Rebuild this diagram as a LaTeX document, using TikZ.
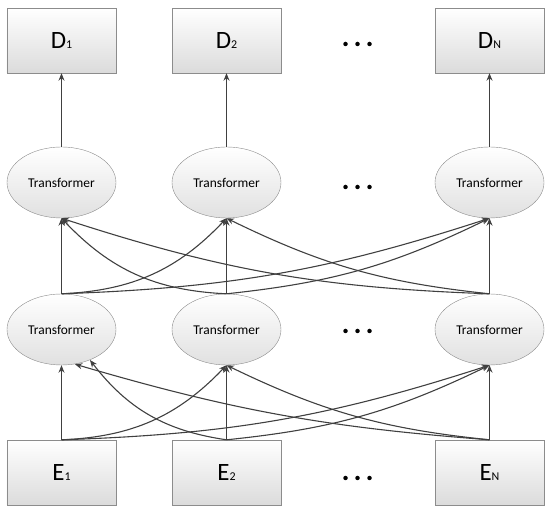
\documentclass[tikz,border=0pt]{standalone}
\usepackage{fontspec}
\setmainfont{Carlito}
\usetikzlibrary{arrows.meta,shapes.geometric}
\begin{document}
\begin{tikzpicture}[x=1bp,y=1bp,
 box/.style={draw=black!45, top color=white, bottom color=black!14, minimum width=109bp, minimum height=65bp, inner sep=0pt, font=\fontsize{25}{25}\selectfont},
 tf/.style={ellipse, draw=black!45, top color=white, bottom color=black!12, minimum width=109bp, minimum height=71bp, inner sep=0pt, font=\fontsize{13.5}{14}\selectfont},
 link/.style={draw=black!75, line width=1.1bp, -{Stealth[length=7.5bp,width=6bp]}},
 dot/.style={circle, fill=black, inner sep=0pt, minimum size=4.5bp}]
\useasboundingbox (0,0) rectangle (550,512);
\newcommand{\sub}[1]{{\fontsize{12}{12}\selectfont #1}}
% top boxes
\node[box] (d1) at (61.5,471.5) {D\sub{1}};
\node[box] (d2) at (226.5,471.5) {D\sub{2}};
\node[box] (dn) at (489.5,471.5) {D\sub{N}};
% top transformers
\node[tf] (t1) at (61.5,329.5) {Transformer};
\node[tf] (t2) at (226.5,329.5) {Transformer};
\node[tf] (tn) at (489.5,329.5) {Transformer};
% bottom transformers
\node[tf] (b1) at (61.5,182.5) {Transformer};
\node[tf] (b2) at (226.5,182.5) {Transformer};
\node[tf] (bn) at (489.5,182.5) {Transformer};
% input boxes
\node[box] (e1) at (61.5,39.5) {E\sub{1}};
\node[box] (e2) at (226.5,39.5) {E\sub{2}};
\node[box] (en) at (489.5,39.5) {E\sub{N}};
% dots
\foreach \y/\r in {468/A,325/B,181/C,34/D}{
  \node[dot] (dot\r1) at (345.5,\y) {};
  \node[dot] (dot\r2) at (357.5,\y) {};
  \node[dot] (dot\r3) at (369.5,\y) {};
}
% top arrows
\draw[link] (t1.north) -- (d1.south);
\draw[link] (t2.north) -- (d2.south);
\draw[link] (tn.north) -- (dn.south);
% middle layer
\draw[link] (b1.north) -- (t1.south);
\draw[link] (b2.north) -- (t2.south);
\draw[link] (bn.north) -- (tn.south);
\draw[link] (b1.north) to[bend right=22] (t2.south);
\draw[link] (b2.north) to[bend left=22] (t1.south);
\draw[link] (b1.north) to[bend right=8] (tn.south);
\draw[link] (b2.north) to[bend right=10] (tn.south);
\draw[link] (bn.north) to[bend left=8] (t1.south);
\draw[link] (bn.north) to[bend left=10] (t2.south);
% bottom layer
\draw[link] (e1.north) -- (b1.south);
\draw[link] (e2.north) -- (b2.south);
\draw[link] (en.north) -- (bn.south);
\draw[link] (e1.north) to[bend right=22] (b2.south);
\draw[link] (e2.north) to[bend left=22] (b1.-47);
\draw[link] (e1.north) to[bend right=8] (bn.south);
\draw[link] (e2.north) to[bend right=10] (bn.south);
\draw[link] (en.north) to[bend left=6] (b1.-69);
\draw[link] (en.north) to[bend left=10] (b2.south);
\end{tikzpicture}
\end{document}
